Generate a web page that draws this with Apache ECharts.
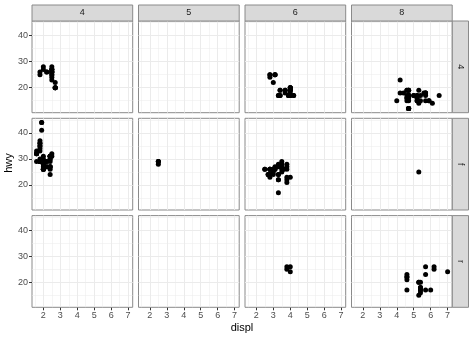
<!DOCTYPE html>
<html><head><meta charset="utf-8">
<script src="https://cdn.jsdelivr.net/npm/echarts@6/dist/echarts.min.js"></script>
<style>html,body{margin:0;padding:0;background:#fff}#c{width:474px;height:338px}</style>
</head><body><div id="c"></div>
<script>
// facet levels
const cylLevels = ['4', '5', '6', '8'];
const drvLevels = ['4', 'f', 'r'];
// tick labels / breaks
const xTicks = [2, 3, 4, 5, 6, 7];
const xMinor = [1.5, 2.5, 3.5, 4.5, 5.5, 6.5];
const yTicks = [20, 30, 40];
const yMinor = [15, 25, 35, 45];
const xTitle = 'displ';
const yTitle = 'hwy';

// [displ, hwy] per panel (drv x cyl)
const drv4_cyl4 = [[1.8,26],[1.8,25],[2.0,28],[2.0,27],[2.5,25],[2.5,24],[2.5,27],[2.5,25],[2.5,26],[2.5,23],
  [2.2,26],[2.2,26],[2.5,26],[2.5,26],[2.5,28],[2.5,27],[2.5,26],[2.5,27],[2.7,20],[2.7,20],[2.7,20],[2.7,20],[2.7,22]];
const drv4_cyl5 = [];
const drv4_cyl6 = [[2.8,25],[2.8,25],[3.1,25],[3.1,25],[2.8,24],[3.1,25],[3.7,19],[3.7,18],[3.9,17],[3.9,17],[3.9,17],
  [4.0,17],[4.0,19],[4.0,17],[4.0,19],[4.2,17],[4.2,17],[3.0,22],[3.7,19],[4.0,20],[4.0,17],[4.0,19],[3.3,17],[3.3,17],
  [4.0,20],[3.4,19],[3.4,17],[4.0,20],[3.4,17],[3.4,19],[4.0,18],[4.0,20]];
const drv4_cyl8 = [[4.2,23],[5.3,19],[5.3,14],[5.7,15],[6.5,17],[4.7,19],[4.7,19],[4.7,12],[5.2,17],[5.2,17],[4.7,17],
  [4.7,12],[4.7,17],[5.2,16],[5.2,15],[5.7,18],[5.9,15],[4.7,16],[4.7,12],[4.7,17],[4.7,17],[4.7,12],[5.2,15],[5.2,16],
  [5.7,17],[5.9,15],[4.6,19],[5.0,17],[4.6,16],[4.6,16],[4.6,17],[5.4,15],[5.4,17],[4.7,17],[4.7,12],[4.7,19],[5.7,18],
  [6.1,14],[4.0,15],[4.2,18],[4.4,18],[4.6,15],[4.6,19],[5.0,17],[5.6,18],[4.7,17],[4.7,15],[5.7,18]];
const drvf_cyl4 = [[1.8,29],[1.8,29],[2.0,31],[2.0,30],[2.4,27],[2.4,30],[2.4,24],[1.6,33],[1.6,32],[1.6,32],[1.6,29],
  [1.6,32],[1.8,34],[1.8,36],[1.8,36],[2.0,29],[2.4,26],[2.4,27],[2.4,30],[2.4,31],[2.0,26],[2.0,29],[2.0,28],[2.0,27],
  [2.4,29],[2.4,27],[2.5,31],[2.5,32],[2.2,29],[2.2,27],[2.4,31],[2.4,31],[2.2,27],[2.2,29],[2.4,31],[2.4,31],[1.8,30],
  [1.8,33],[1.8,35],[1.8,37],[1.8,35],[2.0,29],[2.0,26],[2.0,29],[2.0,29],[1.9,44],[2.0,29],[2.0,26],[2.0,29],[2.0,29],
  [1.9,44],[1.9,41],[2.0,29],[2.0,26],[1.8,29],[1.8,29],[2.0,28],[2.0,29]];
const drvf_cyl5 = [[2.5,29],[2.5,29],[2.5,28],[2.5,29]];
const drvf_cyl6 = [[2.8,26],[2.8,26],[3.1,27],[3.1,26],[3.5,29],[3.6,26],[3.0,24],[3.3,22],[3.3,22],[3.3,24],[3.3,24],
  [3.3,17],[3.8,22],[3.8,21],[3.8,23],[4.0,23],[2.5,26],[2.5,26],[3.3,28],[2.7,24],[2.7,24],[2.7,24],[3.5,27],[3.5,26],
  [3.0,26],[3.0,25],[3.5,25],[3.1,26],[3.8,26],[3.8,27],[3.8,28],[3.0,26],[3.0,26],[3.5,28],[3.0,26],[3.0,26],[3.3,27],
  [2.8,24],[2.8,23],[2.8,24],[2.8,26],[2.8,26],[3.6,26]];
const drvf_cyl8 = [[5.3,25]];
const drvr_cyl4 = [];
const drvr_cyl5 = [];
const drvr_cyl6 = [[3.8,26],[3.8,25],[4.0,26],[4.0,24]];
const drvr_cyl8 = [[5.3,20],[5.3,15],[5.3,20],[5.7,17],[6.0,17],[5.7,26],[5.7,23],[6.2,26],[6.2,25],[7.0,24],[4.6,17],
  [5.4,17],[5.4,18],[4.6,21],[4.6,22],[4.6,23],[4.6,22],[5.4,20],[5.4,17],[5.4,16],[5.4,18]];

const panelData = [
  [drv4_cyl4, drv4_cyl5, drv4_cyl6, drv4_cyl8],
  [drvf_cyl4, drvf_cyl5, drvf_cyl6, drvf_cyl8],
  [drvr_cyl4, drvr_cyl5, drvr_cyl6, drvr_cyl8]
];

// layout
const colLeft = [32, 138.5, 245, 351.5];
const colW = 100.7;
const rowTop = [21, 118.3, 215.6];
const rowH = 91.7;
const stripTop = 5, stripH = 16;
const stripRightX = 452.3, stripW = 16.2;
const FONT = 'Liberation Sans, Arial, Helvetica, sans-serif';
const borderCol = '#8a8a8a';
const gridCol = '#ebebeb';

const grids = [], xAxes = [], yAxes = [], series = [], graphics = [];
let gi = 0;
for (let r = 0; r < drvLevels.length; r++) {
  for (let c = 0; c < cylLevels.length; c++) {
    grids.push({left: colLeft[c], top: rowTop[r], width: colW, height: rowH, show: true,
      backgroundColor: '#fff', borderColor: borderCol, borderWidth: 1, z: 0});
    const bottom = r === drvLevels.length - 1, left = c === 0;
    xAxes.push({gridIndex: gi, type: 'value', min: 1.33, max: 7.27,
      axisLine: {show: false}, splitLine: {show: false},
      axisTick: {show: bottom, customValues: xTicks, length: 3, lineStyle: {color: '#333', width: 1}},
      axisLabel: {show: bottom, customValues: xTicks, fontSize: 9, color: '#4d4d4d', margin: 4, fontFamily: FONT}});
    yAxes.push({gridIndex: gi, type: 'value', min: 10.4, max: 45.6,
      axisLine: {show: false}, splitLine: {show: false},
      axisTick: {show: left, customValues: yTicks, length: 3, lineStyle: {color: '#333', width: 1}},
      axisLabel: {show: left, customValues: yTicks, fontSize: 9, color: '#4d4d4d', margin: 4, fontFamily: FONT}});
    const ml = [];
    xMinor.forEach(v => ml.push({xAxis: v, lineStyle: {width: 0.5}}));
    yMinor.forEach(v => ml.push({yAxis: v, lineStyle: {width: 0.5}}));
    xTicks.forEach(v => ml.push({xAxis: v, lineStyle: {width: 1}}));
    yTicks.forEach(v => ml.push({yAxis: v, lineStyle: {width: 1}}));
    series.push({type: 'scatter', xAxisIndex: gi, yAxisIndex: gi, data: [], z: 1, silent: true,
      markLine: {z: 1, silent: true, symbol: ['none', 'none'], animation: false, label: {show: false},
        emphasis: {disabled: true}, lineStyle: {color: gridCol, type: 'solid'}, data: ml}});
    series.push({type: 'scatter', xAxisIndex: gi, yAxisIndex: gi, data: panelData[r][c], z: 10,
      symbolSize: 5, itemStyle: {color: '#000', opacity: 1}, animation: false, silent: true});
    gi++;
  }
}
// top strips
cylLevels.forEach((lab, c) => {
  graphics.push({type: 'rect', shape: {x: colLeft[c], y: stripTop, width: colW, height: stripH},
    style: {fill: '#d9d9d9', stroke: borderCol, lineWidth: 1}, z: 5});
  graphics.push({type: 'text', x: colLeft[c] + colW / 2, y: stripTop + stripH / 2,
    style: {text: lab, fill: '#1a1a1a', font: '9px ' + FONT, align: 'center', verticalAlign: 'middle'}, z: 6});
});
// right strips
drvLevels.forEach((lab, r) => {
  graphics.push({type: 'rect', shape: {x: stripRightX, y: rowTop[r], width: stripW, height: rowH},
    style: {fill: '#d9d9d9', stroke: borderCol, lineWidth: 1}, z: 5});
  graphics.push({type: 'text', x: stripRightX + stripW / 2, y: rowTop[r] + rowH / 2, rotation: -Math.PI / 2,
    style: {text: lab, fill: '#1a1a1a', font: '9px ' + FONT, align: 'center', verticalAlign: 'middle'}, z: 6});
});
// axis titles
graphics.push({type: 'text', x: 242, y: 328,
  style: {text: xTitle, fill: '#000', font: '11px ' + FONT, align: 'center', verticalAlign: 'middle'}});
graphics.push({type: 'text', x: 9, y: 163, rotation: Math.PI / 2,
  style: {text: yTitle, fill: '#000', font: '11px ' + FONT, align: 'center', verticalAlign: 'middle'}});

const chart = echarts.init(document.getElementById('c'), null, {renderer: 'canvas'});
chart.setOption({animation: false, backgroundColor: '#fff', grid: grids, xAxis: xAxes, yAxis: yAxes,
  series: series, graphic: graphics});
</script></body></html>
